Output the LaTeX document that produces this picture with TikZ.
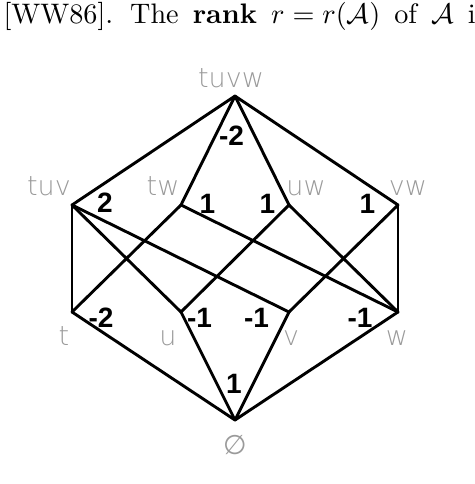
\documentclass[tikz,border=0pt]{standalone}
\usepackage{fontspec}
\newfontfamily\thinfont{DejaVu Sans ExtraLight}
\newfontfamily\symfont{DejaVu Sans}
\newfontfamily\numfont{Liberation Sans}
\definecolor{lbl}{HTML}{9A9A9A}
\begin{document}
\begin{tikzpicture}[x=1pt,y=-1pt,
  vlabel/.style={inner sep=0pt,anchor=base,text=lbl,font=\thinfont\fontsize{27}{30}\selectfont},
  num/.style={inner sep=0pt,anchor=base,font=\numfont\bfseries\fontsize{28}{30}\selectfont},
  edge/.style={line width=2.9pt,line join=round,line cap=round}]
\useasboundingbox (0,0) rectangle (474,484);
\node[inner sep=0pt,anchor=base west,scale=2.82] (head) at (3,24)
  {\fontsize{10}{12}\selectfont\spaceskip=0.5em plus 0.1em\xspaceskip=0.6em [WW86]. The \textbf{rank} $r = r(\mathcal{A})$ of $\mathcal{A}$ is};
% vertices
\coordinate (tuvw) at (235,96);
\coordinate (tuv) at (72,205);
\coordinate (tw) at (181,205);
\coordinate (uw) at (289,205);
\coordinate (vw) at (398,205);
\coordinate (t) at (72,312);
\coordinate (u) at (181,312);
\coordinate (v) at (289,312);
\coordinate (w) at (398,312);
\coordinate (e) at (235,420);
% edges
\draw[edge] (tuvw) -- (tuv);
\draw[edge] (tuvw) -- (tw);
\draw[edge] (tuvw) -- (uw);
\draw[edge] (tuvw) -- (vw);
\draw[edge] (tuv) -- (t);
\draw[edge] (tuv) -- (u);
\draw[edge] (tuv) -- (v);
\draw[edge] (tw) -- (t);
\draw[edge] (tw) -- (w);
\draw[edge] (uw) -- (u);
\draw[edge] (uw) -- (w);
\draw[edge] (vw) -- (v);
\draw[edge] (vw) -- (w);
\draw[edge] (t) -- (e);
\draw[edge] (u) -- (e);
\draw[edge] (v) -- (e);
\draw[edge] (w) -- (e);
% vertex labels
\node[vlabel] (Ltuvw) at (231,88) {tuvw};
\node[vlabel] (Ltuv) at (49,195) {tuv};
\node[vlabel] (Ltw) at (163,195) {tw};
\node[vlabel] (Luw) at (306,195) {uw};
\node[vlabel] (Lvw) at (408,195) {vw};
\node[vlabel] (Lt) at (64,345) {t};
\node[vlabel] (Lu) at (168,345) {u};
\node[vlabel] (Lv) at (291,345) {v};
\node[vlabel] (Lw) at (397,345) {w};
\node[vlabel,font=\symfont\fontsize{27}{30}\selectfont] (Le) at (235,454) {∅};
% numbers
\node[num] (Ntuvw) at (231.5,145) {-2};
\node[num] (Ntuv) at (105,212) {2};
\node[num] (Ntw) at (207.5,213) {1};
\node[num] (Nuw) at (267.5,213) {1};
\node[num] (Nvw) at (367.5,213) {1};
\node[num] (Nt) at (101,327) {-2};
\node[num] (Nu) at (199.5,327) {-1};
\node[num] (Nv) at (256.5,327) {-1};
\node[num] (Nw) at (360,327) {-1};
\node[num] (Ne) at (234,393) {1};
\end{tikzpicture}
\end{document}
